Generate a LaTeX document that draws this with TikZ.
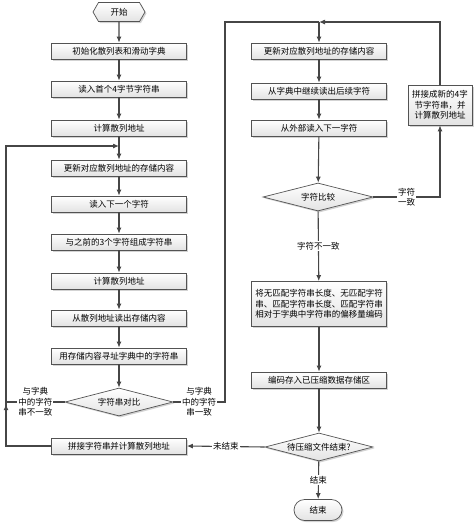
\documentclass[tikz,border=0pt]{standalone}
\usepackage{fontspec}
\newfontfamily\cjk{Noto Sans CJK SC}
\usepackage{tikz}
\usetikzlibrary{positioning, calc, arrows.meta, shapes.geometric, shapes.misc, shapes.symbols, shadows, decorations.markings}

\tikzset{
  base/.style={draw=gray!65!black, line width=0.7pt, top color=white, bottom color=gray!22,
    drop shadow={opacity=0.35, shadow xshift=1.5pt, shadow yshift=-1.5pt},
    font=\cjk\fontsize{8.5pt}{10.5pt}\selectfont, align=center, inner sep=1pt},
  proc/.style={base, rectangle, minimum width=135pt, minimum height=16pt},
  decide/.style={base, diamond, aspect=3.9, inner sep=0pt, minimum width=108pt, minimum height=28pt},
  startbox/.style={base, signal, signal to=east and west, signal pointer angle=120, minimum width=52pt, minimum height=19pt},
  endbox/.style={base, rounded rectangle, minimum width=50pt, minimum height=21pt},
  lbl/.style={fill=white, inner sep=1pt, align=center, font=\cjk\fontsize{8.5pt}{10.5pt}\selectfont},
  line/.style={draw=gray!55!black, line width=1.1pt},
  arr/.style={line, -{Latex[length=6pt,width=5pt]}},
}

\begin{document}
\begin{tikzpicture}[x=1pt, y=-1pt]
  \useasboundingbox (0,0) rectangle (474,523);

  % 左列
  \node[startbox] (start) at (119,12) {开始};
  \node[proc] (b1) at (119,51) {初始化散列表和滑动字典};
  \node[proc] (b2) at (119,89) {读入首个4字节字符串};
  \node[proc] (b3) at (119,128) {计算散列地址};
  \node[proc] (b4) at (119,168) {更新对应散列地址的存储内容};
  \node[proc] (b5) at (119,204) {读入下一个字符};
  \node[proc] (b6) at (119,242) {与之前的3个字符组成字符串};
  \node[proc] (b7) at (119,281) {计算散列地址};
  \node[proc] (b8) at (119,318) {从散列地址读出存储内容};
  \node[proc] (b9) at (119,356) {用存储内容寻址字典中的字符串};
  \node[decide] (d1) at (119,402) {字符串对比};
  \node[proc] (b11) at (119,446) {拼接字符串并计算散列地址};

  % 右列
  \node[proc] (r1) at (319,51) {更新对应散列地址的存储内容};
  \node[proc] (r2) at (319,91) {从字典中继续读出后续字符};
  \node[proc] (r3) at (319,128) {从外部读入下一字符};
  \node[decide, minimum width=110pt] (rd1) at (318,197) {字符比较};
  \node[proc, minimum width=64pt, minimum height=40pt] (r5) at (440,105) {拼接成新的4字\\节字符串，并\\计算散列地址};
  \node[proc, minimum height=45pt] (r6) at (319,304) {将无匹配字符串长度、无匹配字符\\串、匹配字符串长度、匹配字符串\\相对于字典中字符串的偏移量编码};
  \node[proc] (r7) at (319,380) {编码存入已压缩数据存储区};
  \node[decide] (rd2) at (319,447) {待压缩文件结束?};
  \node[endbox] (e) at (318,510) {结束};

  % 汇合点
  \coordinate (jL) at (119,146);
  \coordinate (cL) at (6,146);
  \coordinate (jR) at (319,22);
  \coordinate (cR) at (225,22);

  % 左列连线
  \draw[arr] (start) -- (b1);
  \draw[arr] (b1) -- (b2);
  \draw[arr] (b2) -- (b3);
  \draw[arr] (b3) -- (b4);
  \draw[arr] (b4) -- (b5);
  \draw[arr] (b5) -- (b6);
  \draw[arr] (b6) -- (b7);
  \draw[arr] (b7) -- (b8);
  \draw[arr] (b8) -- (b9);
  \draw[arr] (b9) -- (d1);
  \draw[arr, postaction={decorate}, decoration={markings,
      mark=at position 0.19 with {\arrow{Latex[length=6pt,width=5pt]}}}]
    (b11.west) -| (cL) -- (jL);
  \draw[line] (d1.west) -- node[lbl] {与字典\\中的字符\\串不一致} (d1.west -| cL);
  \draw[line] (d1.east) -- node[lbl] {与字典\\中的字符\\串一致} (d1.east -| cR) -- (cR) -- (jR);

  % 右列连线
  \draw[arr] (r5.north) |- (jR);
  \draw[arr] (jR) -- (r1);
  \draw[arr] (r1) -- (r2);
  \draw[arr] (r2) -- (r3);
  \draw[arr] (r3) -- (rd1);
  \draw[arr] (rd1.east) -- node[lbl] {字符\\一致} (rd1.east -| r5) -- (r5.south);
  \draw[arr] (rd1) -- node[lbl] {字符不一致} (r6);
  \draw[arr] (r6) -- (r7);
  \draw[arr] (r7) -- (rd2);
  \draw[arr] (rd2.west) -- node[lbl] {未结束} (b11.east);
  \draw[arr] (rd2) -- node[lbl] {结束} (e);
\end{tikzpicture}
\end{document}
